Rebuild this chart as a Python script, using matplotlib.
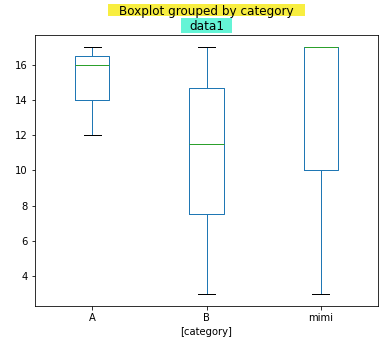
import matplotlib
matplotlib.use("Agg")
import matplotlib.pyplot as plt
from matplotlib.patches import Rectangle

categories = ["A", "B", "mimi"]
whisker_lo = [12, 3, 3]
q1 = [14, 7.5, 10]
medians = [16, 11.5, 17]
q3 = [16.5, 14.7, 17]
whisker_hi = [17, 17, 17]

stats = []
for name, lo, a, m, b, hi in zip(categories, whisker_lo, q1, medians, q3, whisker_hi):
    stats.append({"label": name, "whislo": lo, "q1": a, "med": m, "q3": b,
                  "whishi": hi, "fliers": []})

fig = plt.figure(figsize=(389 / 72, 343 / 72), dpi=72)
ax = fig.add_axes([35 / 389, 1 - 306 / 343, 343 / 389, 271 / 343])

ax.bxp(stats, widths=0.3, showfliers=False,
       boxprops=dict(color="C0"),
       whiskerprops=dict(color="C0"),
       capprops=dict(color="k"),
       medianprops=dict(color="C2"))

ax.set_xlabel("[category]")
title = ax.set_title("data1", fontsize=12, pad=5)
sup = fig.suptitle("Boxplot grouped by category", fontsize=12,
                   x=206.5 / 389, y=0.984)

# tight coloured backgrounds behind the two titles (pixel coords)
fig.canvas.draw()
r = fig.canvas.get_renderer()
bb = sup.get_window_extent(r)
fig.patches.append(Rectangle((bb.x0 - 11, bb.y0 + 2), bb.width + 22, bb.height - 1,
                             transform=None, facecolor="#f8ee40", edgecolor="none",
                             zorder=-1))
bb = title.get_window_extent(r)
fig.patches.append(Rectangle((bb.x0 - 8, bb.y0), bb.width + 16, bb.height + 2,
                             transform=None, facecolor="#64f4d6", edgecolor="none",
                             zorder=-1))

fig.savefig("out.png", dpi=72)
